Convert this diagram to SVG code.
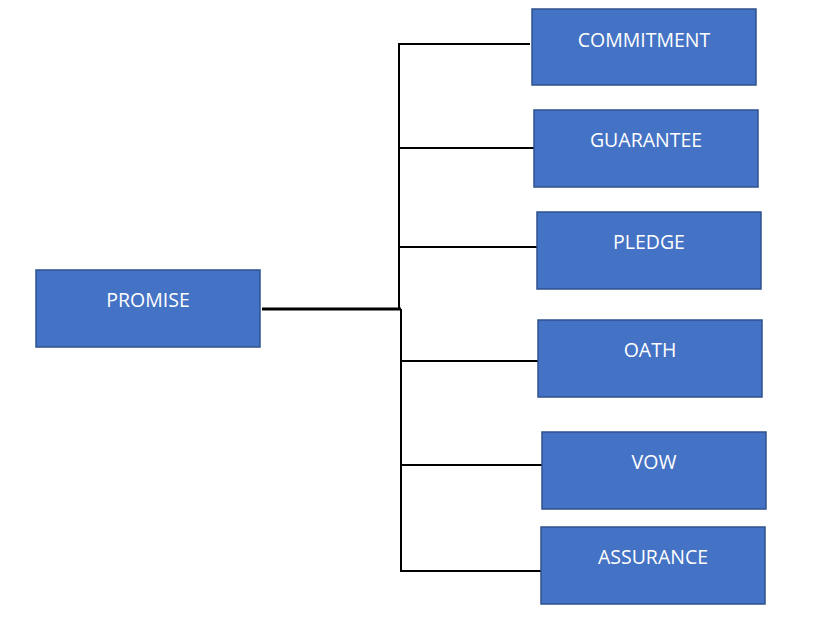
<svg xmlns="http://www.w3.org/2000/svg" width="820" height="619" viewBox="0 0 820 619">
<style>
.box{fill:#4472C4;stroke:#2F528F;stroke-width:1.5}
.lbl{font-family:"Open Sans","Liberation Sans",sans-serif;font-size:19.5px;fill:#ffffff;text-anchor:middle}
.ln{stroke:#000;stroke-width:2;fill:none}
</style>
<rect width="820" height="619" fill="#ffffff"/>
<g id="connectors">
<path class="ln" d="M530,44 H399 V309"/>
<path class="ln" d="M399,148 H534"/>
<path class="ln" d="M399,247 H537"/>
<path class="ln" d="M262,309 H401" style="stroke-width:3"/>
<path class="ln" d="M401,309 V571 H541"/>
<path class="ln" d="M401,361 H538"/>
<path class="ln" d="M401,465 H542"/>
</g>
<g id="promise"><rect class="box" x="36" y="270" width="224" height="77"/><text class="lbl" x="148" y="307">PROMISE</text></g>
<g id="commitment"><rect class="box" x="532" y="9" width="224" height="76"/><text class="lbl" x="644" y="47">COMMITMENT</text></g>
<g id="guarantee"><rect class="box" x="534" y="110" width="224" height="77"/><text class="lbl" x="646" y="147">GUARANTEE</text></g>
<g id="pledge"><rect class="box" x="537" y="212" width="224" height="77"/><text class="lbl" x="649" y="249">PLEDGE</text></g>
<g id="oath"><rect class="box" x="538" y="320" width="224" height="77"/><text class="lbl" x="650" y="357">OATH</text></g>
<g id="vow"><rect class="box" x="542" y="432" width="224" height="77"/><text class="lbl" x="654" y="469">VOW</text></g>
<g id="assurance"><rect class="box" x="541" y="527" width="224" height="77"/><text class="lbl" x="653" y="564">ASSURANCE</text></g>
</svg>
